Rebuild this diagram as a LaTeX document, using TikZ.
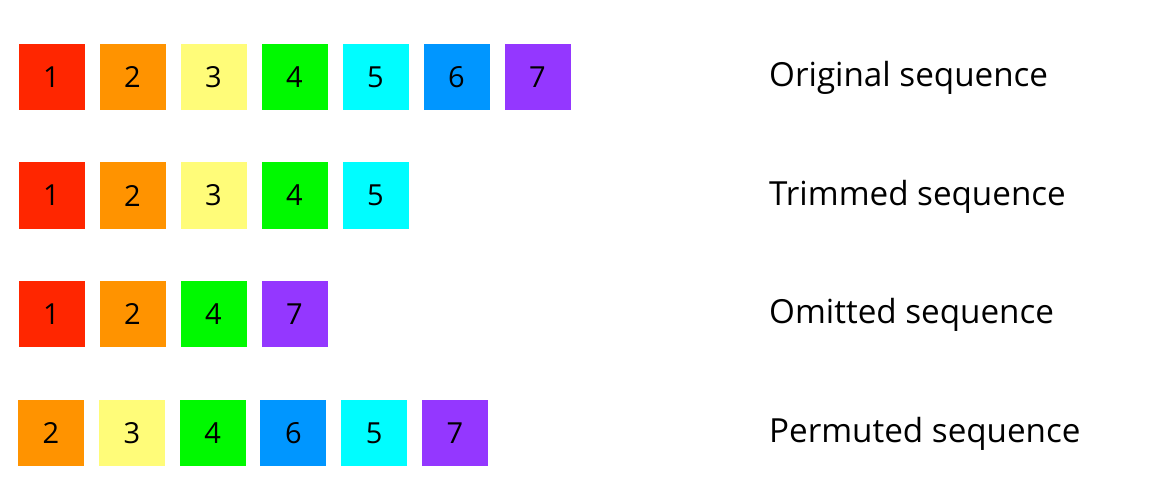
\documentclass[tikz,border=0pt]{standalone}
\usepackage{fontspec}
\setmainfont{Open Sans}
\definecolor{cred}{HTML}{FF2600}
\definecolor{corange}{HTML}{FF9300}
\definecolor{cyellow}{HTML}{FFFC79}
\definecolor{cgreen}{HTML}{00F900}
\definecolor{ccyan}{HTML}{00FDFF}
\definecolor{cblue}{HTML}{0096FF}
\definecolor{cpurple}{HTML}{9437FF}
\begin{document}
\begin{tikzpicture}[x=1pt,y=-1pt]
\tikzstyle{tile}=[minimum size=66pt,inner sep=0pt,font=\fontsize{29}{29}\selectfont]
\tikzstyle{caption}=[anchor=base west,inner sep=0pt,font=\fontsize{33.2}{33.2}\selectfont]
\useasboundingbox (0,0) rectangle (1166,489);

% original
\foreach \n/\c [count=\i] in {1/cred,2/corange,3/cyellow,4/cgreen,5/ccyan,6/cblue,7/cpurple}
{
  \node[tile,fill=\c] (o\i) at ({51.5+81*(\i-1)},77.5) {\n};
}
\node[caption] (lo) at (769,87) {Original sequence};

% trimmed
\foreach \n/\c [count=\i] in {1/cred,2/corange,3/cyellow,4/cgreen,5/ccyan}
{
  \node[tile,fill=\c] (t\i) at ({51.5+81*(\i-1)},195.5) {\n};
}
\node[caption] (lt) at (769,205) {Trimmed sequence};

% omitted
\foreach \n/\c [count=\i] in {1/cred,2/corange,4/cgreen,7/cpurple}
{
  \node[tile,fill=\c] (m\i) at ({51.5+81*(\i-1)},314) {\n};
}
\node[caption] (lm) at (769,323) {Omitted sequence};

% permuted
\foreach \n/\c [count=\i] in {2/corange,3/cyellow,4/cgreen,6/cblue,5/ccyan,7/cpurple}
{
  \node[tile,fill=\c] (p\i) at ({51+80.8*(\i-1)},433) {\n};
}
\node[caption] (lp) at (769,442) {Permuted sequence};

\end{tikzpicture}
\end{document}
